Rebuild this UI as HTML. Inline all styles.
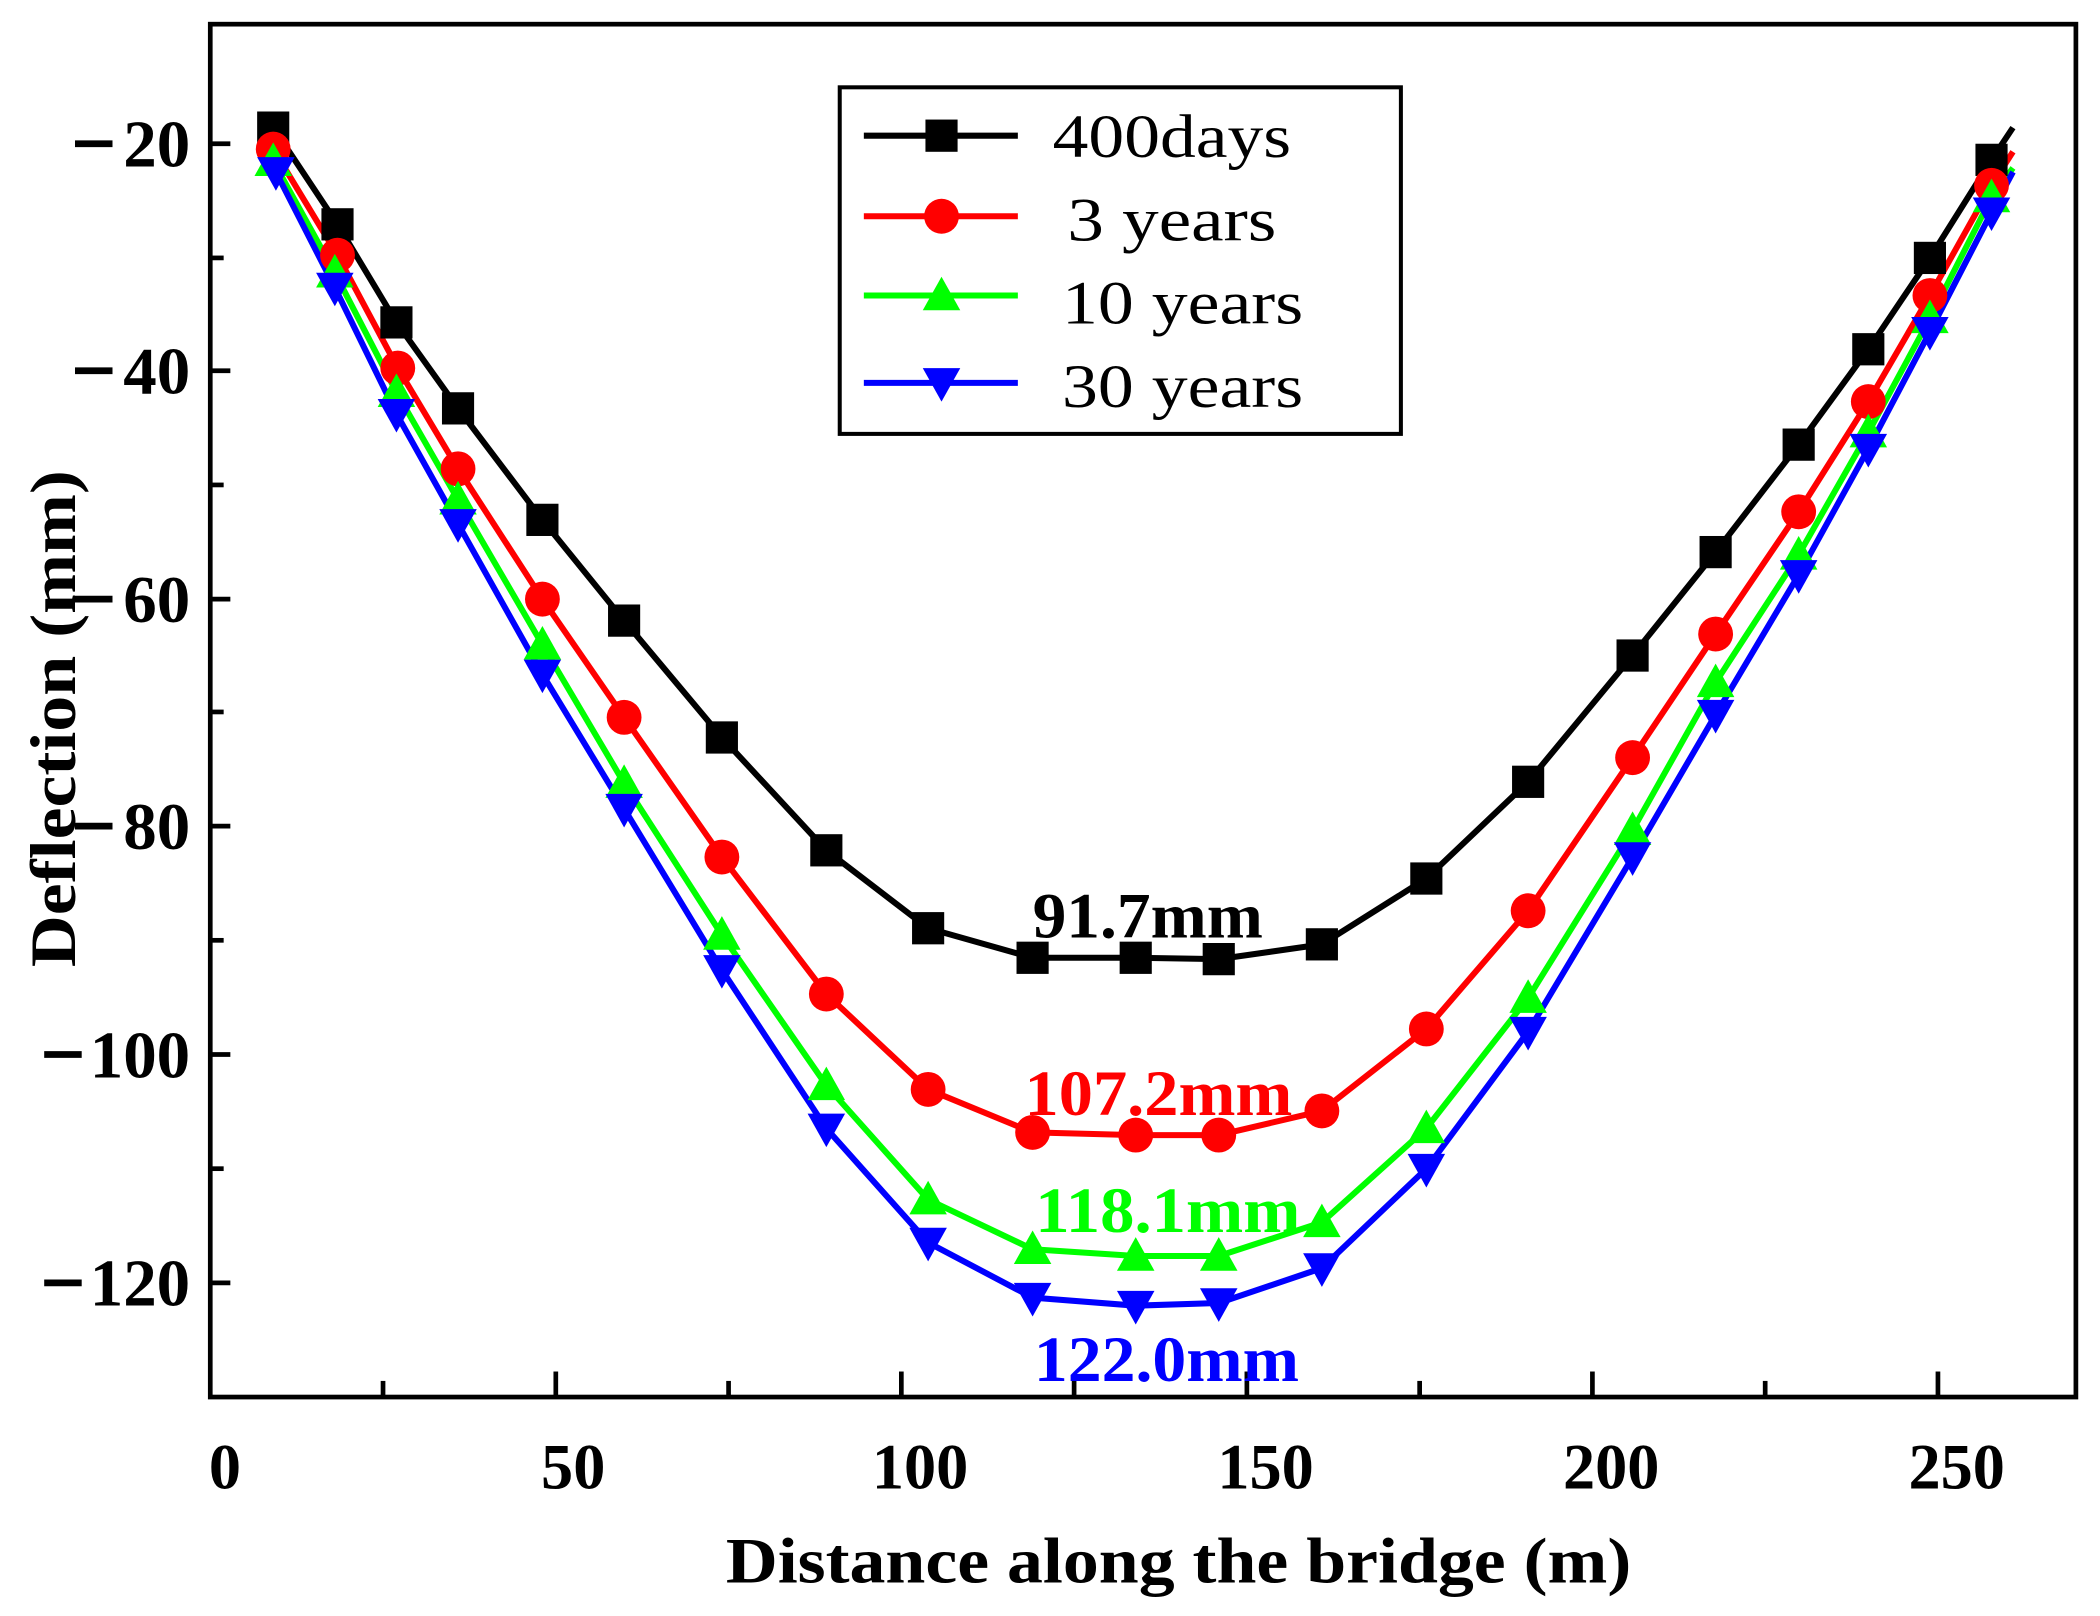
<!DOCTYPE html>
<html><head><style>html,body{margin:0;padding:0;background:#fff}svg{display:block}</style></head>
<body>
<svg width="2100" height="1616" viewBox="0 0 1568 1203" preserveAspectRatio="none" xmlns="http://www.w3.org/2000/svg" font-family="'Liberation Serif', serif">
<defs>
<g id="sq"><rect x="-12" y="-12" width="24" height="24" fill="#000"/></g>
<g id="ci"><circle r="13" fill="#f00"/></g>
<g id="tr"><polygon points="0,-14 14,11 -14,11" fill="#0f0"/></g>
<g id="tv"><polygon points="0,14 14,-11 -14,-11" fill="#00f"/></g>
</defs>
<rect x="157" y="18" width="1393" height="1022" fill="none" stroke="#000" stroke-width="3.5"/>
<g stroke="#000" stroke-width="3.5">
<line x1="157" y1="107" x2="172" y2="107"/><line x1="157" y1="192" x2="167" y2="192"/>
<line x1="157" y1="276" x2="172" y2="276"/><line x1="157" y1="361" x2="167" y2="361"/>
<line x1="157" y1="446" x2="172" y2="446"/><line x1="157" y1="530" x2="167" y2="530"/>
<line x1="157" y1="615" x2="172" y2="615"/><line x1="157" y1="700" x2="167" y2="700"/>
<line x1="157" y1="785" x2="172" y2="785"/><line x1="157" y1="870" x2="167" y2="870"/>
<line x1="157" y1="955" x2="172" y2="955"/>
<line x1="286" y1="1040" x2="286" y2="1028"/><line x1="415" y1="1040" x2="415" y2="1021"/>
<line x1="544" y1="1040" x2="544" y2="1028"/><line x1="673" y1="1040" x2="673" y2="1021"/>
<line x1="802" y1="1040" x2="802" y2="1028"/><line x1="931" y1="1040" x2="931" y2="1021"/>
<line x1="1060" y1="1040" x2="1060" y2="1028"/><line x1="1189" y1="1040" x2="1189" y2="1021"/>
<line x1="1318" y1="1040" x2="1318" y2="1028"/><line x1="1447" y1="1040" x2="1447" y2="1021"/>
</g>
<g stroke="#000" stroke-width="5">
<line x1="56" y1="107" x2="84" y2="107"/><line x1="56" y1="276" x2="84" y2="276"/>
<line x1="56" y1="446" x2="84" y2="446"/><line x1="56" y1="615" x2="84" y2="615"/>
<line x1="33" y1="785" x2="61" y2="785"/><line x1="33" y1="955" x2="61" y2="955"/>
</g>
<g font-size="50" font-weight="bold" text-anchor="end">
<text x="142" y="124">20</text><text x="142" y="293">40</text><text x="142" y="463">60</text>
<text x="142" y="632">80</text><text x="142" y="802">100</text><text x="142" y="972">120</text>
</g>
<g font-size="48" font-weight="bold" text-anchor="middle">
<text x="168" y="1108">0</text><text x="428" y="1108">50</text><text x="687" y="1108">100</text>
<text x="945" y="1108">150</text><text x="1203" y="1108">200</text><text x="1461" y="1108">250</text>
</g>
<text x="880" y="1178" font-size="48" font-weight="bold" text-anchor="middle" textLength="676" lengthAdjust="spacingAndGlyphs">Distance along the bridge (m)</text>
<text transform="translate(56,535) rotate(-90)" font-size="48" font-weight="bold" text-anchor="middle" textLength="370" lengthAdjust="spacingAndGlyphs">Deflection (mm)</text>
<g fill="none" stroke-width="4.5" stroke-linejoin="round">
<polyline stroke="#000" points="204,95 252,167 296,240 342,304 405,387 466,462 539,549 617,633 693,691 771,713 848,713 910,714 987,703 1065,654 1141,582 1219,488 1281,411 1343,331 1395,260 1441,192 1487,119 1503,95"/>
<polyline stroke="#f00" points="204,111 252,190 297,274 342,349 405,446 466,534 539,638 617,740 693,811 771,843 848,845 910,845 987,827 1065,766 1141,678 1219,564 1281,472 1343,381 1395,299 1441,220 1487,138 1503,113"/>
<polyline stroke="#0f0" points="204,120 250,203 296,292 342,372 405,480 466,583 539,696 617,808 693,893 771,930 848,935 910,935 987,910 1065,840 1141,743 1219,618 1281,508 1343,413 1395,322 1441,237 1487,147 1503,125"/>
<polyline stroke="#00f" points="206,128 250,214 296,308 342,390 405,502 466,602 539,722 617,840 693,925 771,966 848,972 910,970 987,944 1065,870 1141,768 1219,638 1281,532 1343,428 1395,334 1441,247 1487,158 1503,128"/>
</g>
<g>
<use href="#sq" x="204" y="95"/><use href="#sq" x="252" y="167"/><use href="#sq" x="296" y="240"/><use href="#sq" x="342" y="304"/><use href="#sq" x="405" y="387"/><use href="#sq" x="466" y="462"/><use href="#sq" x="539" y="549"/><use href="#sq" x="617" y="633"/><use href="#sq" x="693" y="691"/><use href="#sq" x="771" y="713"/><use href="#sq" x="848" y="713"/><use href="#sq" x="910" y="714"/><use href="#sq" x="987" y="703"/><use href="#sq" x="1065" y="654"/><use href="#sq" x="1141" y="582"/><use href="#sq" x="1219" y="488"/><use href="#sq" x="1281" y="411"/><use href="#sq" x="1343" y="331"/><use href="#sq" x="1395" y="260"/><use href="#sq" x="1441" y="192"/><use href="#sq" x="1487" y="119"/>
<use href="#ci" x="204" y="111"/><use href="#ci" x="252" y="190"/><use href="#ci" x="297" y="274"/><use href="#ci" x="342" y="349"/><use href="#ci" x="405" y="446"/><use href="#ci" x="466" y="534"/><use href="#ci" x="539" y="638"/><use href="#ci" x="617" y="740"/><use href="#ci" x="693" y="811"/><use href="#ci" x="771" y="843"/><use href="#ci" x="848" y="845"/><use href="#ci" x="910" y="845"/><use href="#ci" x="987" y="827"/><use href="#ci" x="1065" y="766"/><use href="#ci" x="1141" y="678"/><use href="#ci" x="1219" y="564"/><use href="#ci" x="1281" y="472"/><use href="#ci" x="1343" y="381"/><use href="#ci" x="1395" y="299"/><use href="#ci" x="1441" y="220"/><use href="#ci" x="1487" y="138"/>
<use href="#tr" x="204" y="120"/><use href="#tr" x="250" y="203"/><use href="#tr" x="296" y="292"/><use href="#tr" x="342" y="372"/><use href="#tr" x="405" y="480"/><use href="#tr" x="466" y="583"/><use href="#tr" x="539" y="696"/><use href="#tr" x="617" y="808"/><use href="#tr" x="693" y="893"/><use href="#tr" x="771" y="930"/><use href="#tr" x="848" y="935"/><use href="#tr" x="910" y="935"/><use href="#tr" x="987" y="910"/><use href="#tr" x="1065" y="840"/><use href="#tr" x="1141" y="743"/><use href="#tr" x="1219" y="618"/><use href="#tr" x="1281" y="508"/><use href="#tr" x="1343" y="413"/><use href="#tr" x="1395" y="322"/><use href="#tr" x="1441" y="237"/><use href="#tr" x="1487" y="147"/>
<use href="#tv" x="206" y="128"/><use href="#tv" x="250" y="214"/><use href="#tv" x="296" y="308"/><use href="#tv" x="342" y="390"/><use href="#tv" x="405" y="502"/><use href="#tv" x="466" y="602"/><use href="#tv" x="539" y="722"/><use href="#tv" x="617" y="840"/><use href="#tv" x="693" y="925"/><use href="#tv" x="771" y="966"/><use href="#tv" x="848" y="972"/><use href="#tv" x="910" y="970"/><use href="#tv" x="987" y="944"/><use href="#tv" x="1065" y="870"/><use href="#tv" x="1141" y="768"/><use href="#tv" x="1219" y="638"/><use href="#tv" x="1281" y="532"/><use href="#tv" x="1343" y="428"/><use href="#tv" x="1395" y="334"/><use href="#tv" x="1441" y="247"/><use href="#tv" x="1487" y="158"/>
</g>
<g font-size="48" font-weight="bold" text-anchor="middle">
<text x="857" y="698" fill="#000" textLength="172" lengthAdjust="spacingAndGlyphs">91.7mm</text>
<text x="865" y="830" fill="#f00" textLength="200" lengthAdjust="spacingAndGlyphs">107.2mm</text>
<text x="872" y="917" fill="#0f0" textLength="198" lengthAdjust="spacingAndGlyphs">118.1mm</text>
<text x="871" y="1028" fill="#00f" textLength="198" lengthAdjust="spacingAndGlyphs">122.0mm</text>
</g>
<rect x="627" y="65" width="419" height="258" fill="#fff" stroke="#000" stroke-width="3"/>
<g stroke-width="4.5">
<line x1="645" y1="101" x2="760" y2="101" stroke="#000"/><use href="#sq" x="703" y="101"/>
<line x1="645" y1="161" x2="760" y2="161" stroke="#f00"/><use href="#ci" x="703" y="161"/>
<line x1="645" y1="220" x2="760" y2="220" stroke="#0f0"/><use href="#tr" x="703" y="220"/>
<line x1="645" y1="285" x2="760" y2="285" stroke="#00f"/><use href="#tv" x="703" y="285"/>
</g>
<g font-size="46">
<text x="786" y="117" textLength="178" lengthAdjust="spacingAndGlyphs">400days</text>
<text x="797" y="179" textLength="156" lengthAdjust="spacingAndGlyphs">3 years</text>
<text x="793" y="241" textLength="180" lengthAdjust="spacingAndGlyphs">10 years</text>
<text x="793" y="303" textLength="180" lengthAdjust="spacingAndGlyphs">30 years</text>
</g>
</svg>
</body></html>
